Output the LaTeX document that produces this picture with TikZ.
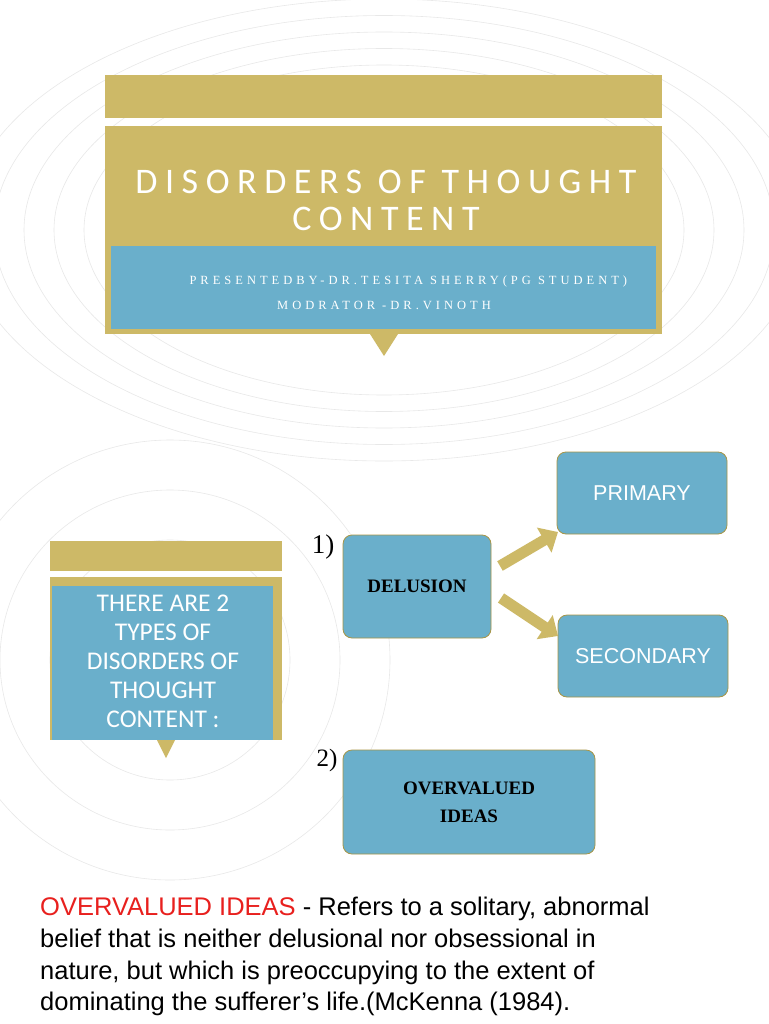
\documentclass[tikz,border=0pt]{standalone}
\usepackage{fontspec}
\setmainfont{Liberation Sans}
\newfontfamily\titlefont[LetterSpace=21]{Carlito}
\newfontfamily\subfont[LetterSpace=32]{Liberation Serif}
\newfontfamily\calfont{Carlito}
\newfontfamily\decofont{Liberation Serif}
\usetikzlibrary{arrows.meta}
\definecolor{gold}{HTML}{CDB967}
\definecolor{goldline}{HTML}{A89545}
\definecolor{sky}{HTML}{6AAFCB}
\definecolor{redt}{HTML}{E8201E}
\tikzset{
  rbox/.style={draw=goldline, line width=0.8pt, fill=sky, rounded corners=9pt},
  blockarrow/.style={draw=gold, line width=11pt, -{Triangle[length=16pt,width=28pt]}},
}
\begin{document}
\begin{tikzpicture}[x=1pt,y=-1pt]
\useasboundingbox (0,0) rectangle (768,1024);
\fill[white] (0,0) rectangle (768,1024);
% faint background arcs
\foreach \r in {300,330,360,390,420}{
  \draw[gray!18, line width=0.6pt] (384,230) ellipse ({\r} and {\r*0.55});
}
\foreach \r in {120,170,220}{
  \draw[gray!18, line width=0.6pt] (170,660) ellipse ({\r} and {\r*1.0});
}
% top title block
\fill[gold] (105,75) rectangle (662,118);
\fill[gold] (105,126) rectangle (662,334);
\fill[sky] (111,246) rectangle (656,329);
\fill[gold] (370,334) -- (398,334) -- (384,356) -- cycle;
\node[text=white, font=\titlefont\fontsize{36}{37}\selectfont, align=center] (title) at (386,200) {DISORDERS OF THOUGHT\\CONTENT};
\node[text=white, font=\subfont\fontsize{12.5}{24}\selectfont, anchor=west] (sub1) at (186,281) {PRESENTEDBY-DR.TESITA SHERRY(PG STUDENT)};
\node[text=white, font=\subfont\fontsize{12.5}{24}\selectfont] (sub2) at (384,305) {MODRATOR -DR.VINOTH};
% left block
\fill[gold] (50,541) rectangle (282,571);
\fill[gold] (50,577) rectangle (282,740);
\fill[sky] (52,586) rectangle (273,740);
\fill[gold] (157,740) -- (175,740) -- (166,758) -- cycle;
\node[text=white, font=\calfont\fontsize{25.5}{29}\selectfont, align=center] (types) at (163,661) {THERE ARE 2\\TYPES OF\\DISORDERS OF\\THOUGHT\\CONTENT :};
% labels
\node[font=\decofont\fontsize{27}{30}\selectfont] (n1) at (323,547) {1)};
\node[font=\decofont\fontsize{25}{28}\selectfont] (n2) at (327,760) {2)};
% boxes
\node[rbox, minimum width=148pt, minimum height=103pt, font=\decofont\bfseries\fontsize{19}{22}\selectfont] (del) at (417,586.5) {DELUSION};
\node[rbox, minimum width=170pt, minimum height=82pt, text=white, font=\fontsize{21.5}{24}\selectfont] (prim) at (642,493) {PRIMARY};
\node[rbox, minimum width=170pt, minimum height=82pt, text=white, font=\fontsize{21.5}{24}\selectfont] (sec) at (643,656) {SECONDARY};
\node[rbox, minimum width=252pt, minimum height=104pt, align=center, font=\decofont\bfseries\fontsize{19}{28}\selectfont] (ov) at (469,802) {OVERVALUED\\IDEAS};
% block arrows
\coordinate (a1s) at (500,566);
\coordinate (a1e) at (558,532);
\coordinate (a2s) at (501,598);
\coordinate (a2e) at (558,636);
\draw[blockarrow] (a1s) -- (a1e);
\draw[blockarrow] (a2s) -- (a2e);
% bottom text
\node[anchor=north west, align=left, font=\fontsize{25.5}{31.7}\selectfont, inner sep=0] (def) at (40,897) {\textcolor{redt}{OVERVALUED IDEAS} - Refers to a solitary, abnormal\\belief that is neither delusional nor obsessional in\\nature, but which is preoccupying to the extent of\\dominating the sufferer’s life.(McKenna (1984).};
\end{tikzpicture}
\end{document}
